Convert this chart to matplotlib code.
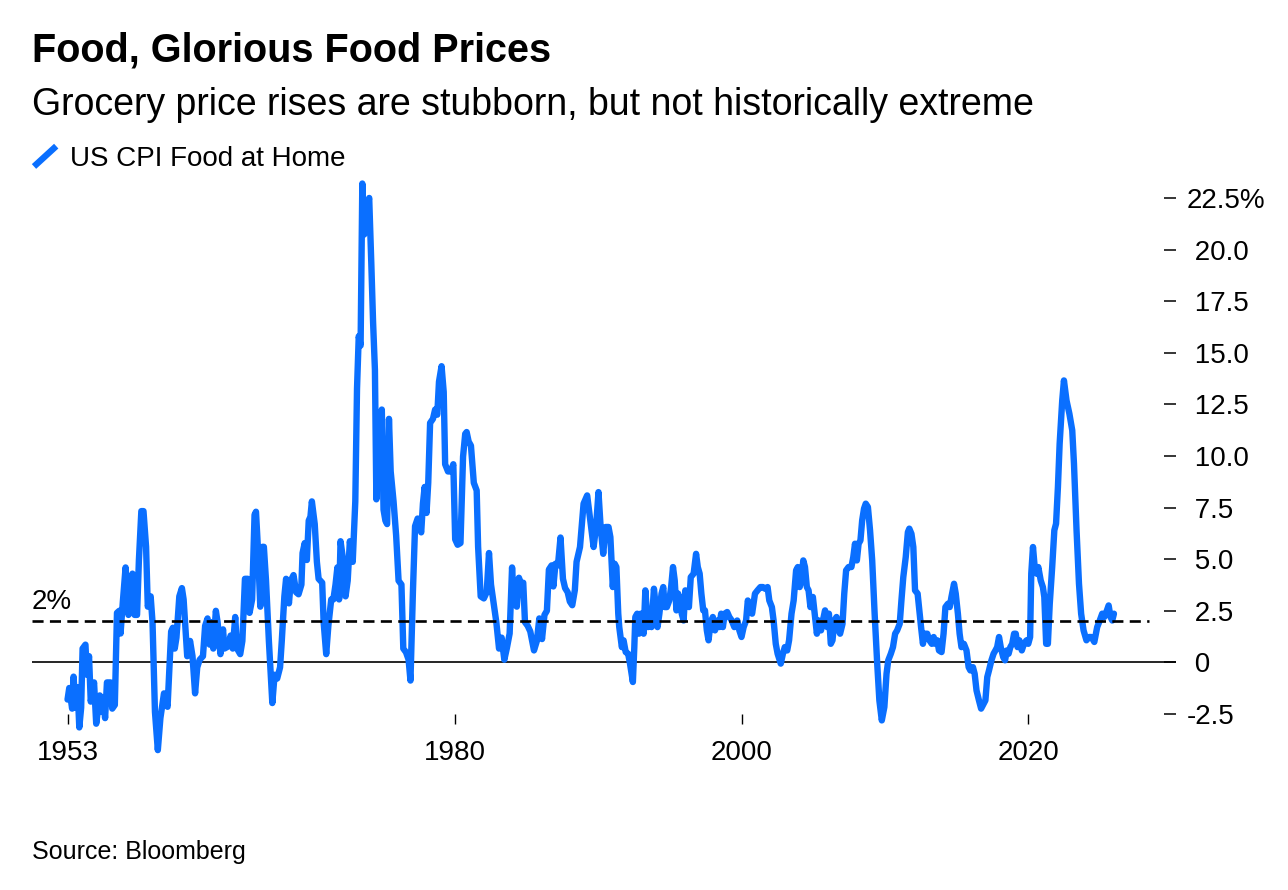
import matplotlib

matplotlib.use("Agg")

import matplotlib.pyplot as plt
from matplotlib.legend_handler import HandlerBase
from matplotlib.lines import Line2D

plt.rcParams["font.family"] = ["Liberation Sans", "DejaVu Sans"]

# US CPI food at home, y/y % change (decimal years)
dates_1953_1972 = [
    1952.95, 1953.07, 1953.27, 1953.37, 1953.5, 1953.65, 1953.77, 1953.9,
    1954.0, 1954.2, 1954.3, 1954.45, 1954.57, 1954.8, 1954.95, 1955.2,
    1955.3, 1955.45, 1955.57, 1955.7, 1955.95, 1956.07, 1956.25, 1956.4,
    1956.56, 1956.65, 1956.8, 1957.0, 1957.2, 1957.3, 1957.48, 1957.63,
    1957.8, 1957.93, 1958.1, 1958.25, 1958.43, 1958.55, 1958.75, 1958.88,
    1959.05, 1959.25, 1959.43, 1959.68, 1959.93, 1960.18, 1960.3, 1960.43,
    1960.55, 1960.75, 1960.93, 1961.05, 1961.3, 1961.5, 1961.67, 1961.85,
    1962.0, 1962.17, 1962.4, 1962.55, 1962.72, 1962.87, 1963.0, 1963.12,
    1963.3, 1963.42, 1963.62, 1963.8, 1963.9, 1964.15, 1964.33, 1964.48,
    1964.65, 1964.78, 1965.0, 1965.15, 1965.33, 1965.53, 1965.65, 1965.83,
    1966.0, 1966.1, 1966.23, 1966.4, 1966.55, 1966.65, 1966.8, 1967.0,
    1967.24, 1967.4, 1967.58, 1967.78, 1967.9, 1968.08, 1968.2, 1968.4,
    1968.53, 1968.72, 1968.9, 1969.07, 1969.27, 1969.35, 1969.5, 1969.65,
    1969.78, 1969.9, 1970.0, 1970.2, 1970.35, 1970.47, 1970.72, 1970.82,
    1971.0, 1971.15, 1971.35, 1971.5, 1971.65, 1971.78, 1971.9, 1972.0,
    1972.2, 1972.35, 1972.5, 1972.65, 1972.85,
]
yoy_1953_1972 = [
    -1.8, -1.24, -2.24, -0.69, -2.2, -1.2, -3.15, -2.2,
    0.67, 0.86, -0.6, 0.3, -1.9, -0.97, -2.97, -1.6,
    -2.4, -1.7, -2.7, -0.97, -0.97, -2.24, -2.06, 2.4,
    2.5, 1.4, 2.86, 4.6, 2.3, 3.05, 4.3, 2.3,
    2.3, 4.96, 7.33, 7.33, 5.6, 2.7, 3.2, 1.95,
    -2.4, -4.25, -2.7, -1.5, -2.15, 1.5, 1.68, 0.67,
    1.2, 3.2, 3.6, 3.05, 0.3, 1.04, 0.3, -1.5,
    -0.24, 0.13, 0.3, 1.77, 2.13, 0.86, 1.95, 0.67,
    2.5, 1.95, 0.4, 1.6, 0.67, 0.77, 1.3, 0.67,
    2.2, 0.67, 0.4, 1.04, 4.05, 4.05, 2.4, 3.05,
    7.15, 7.3, 5.6, 2.7, 5.6, 5.6, 3.96, 1.04,
    -1.97, -0.6, -0.78, -0.24, 1.04, 3.2, 4.05, 2.86,
    3.96, 4.23, 3.4, 3.3, 3.77, 5.3, 5.78, 4.96,
    6.87, 7.06, 7.8, 6.7, 4.87, 4.05, 3.86, 1.95,
    0.4, 1.77, 3.05, 3.05, 3.77, 4.6, 3.05, 5.87,
    4.87, 3.2, 3.96, 5.87, 4.87,
]

dates_1973_1988 = [
    1973.03, 1973.15, 1973.27, 1973.4, 1973.52, 1973.65, 1973.77, 1973.9,
    1974.0, 1974.15, 1974.27, 1974.4, 1974.5, 1974.63, 1974.75, 1974.88,
    1975.0, 1975.13, 1975.25, 1975.38, 1975.5, 1975.7, 1975.88, 1976.05,
    1976.25, 1976.38, 1976.57, 1976.75, 1976.88, 1977.05, 1977.2, 1977.38,
    1977.5, 1977.63, 1977.75, 1977.87, 1978.0, 1978.12, 1978.25, 1978.45,
    1978.6, 1978.75, 1978.87, 1979.05, 1979.2, 1979.3, 1979.5, 1979.7,
    1979.87, 1980.0, 1980.17, 1980.37, 1980.55, 1980.7, 1980.8, 1980.94,
    1981.1, 1981.3, 1981.5, 1981.6, 1981.78, 1982.0, 1982.2, 1982.36,
    1982.5, 1982.67, 1982.87, 1983.06, 1983.24, 1983.43, 1983.6, 1983.8,
    1983.97, 1984.1, 1984.3, 1984.45, 1984.6, 1984.75, 1984.87, 1985.06,
    1985.24, 1985.5, 1985.7, 1985.87, 1986.06, 1986.23, 1986.4, 1986.54,
    1986.73, 1986.85, 1987.0, 1987.17, 1987.35, 1987.52, 1987.67, 1987.85,
    1988.0, 1988.17, 1988.35, 1988.47,
]
yoy_1973_1988 = [
    7.8, 13.26, 15.8, 15.35, 23.2, 20.73, 21.1, 22.2,
    22.5, 19.27, 16.5, 14.17, 7.9, 10.34, 11.07, 12.25,
    7.4, 6.87, 6.7, 11.8, 9.25, 7.8, 6.15, 3.96,
    3.77, 0.67, 0.49, 0.13, -0.88, 3.4, 6.6, 6.97,
    6.6, 6.3, 7.7, 8.5, 7.24, 8.7, 11.6, 11.8,
    12.25, 12.0, 13.6, 14.35, 13.1, 9.6, 9.25, 9.25,
    9.6, 5.96, 5.7, 5.78, 9.97, 11.07, 11.16, 10.7,
    10.5, 8.7, 8.33, 5.6, 3.2, 3.1, 3.4, 5.3,
    3.77, 2.95, 1.95, 0.67, 1.2, 0.13, 0.67, 1.4,
    4.6, 2.86, 2.7, 4.1, 3.77, 3.86, 1.95, 1.77,
    1.5, 0.58, 1.04, 2.13, 1.13, 2.3, 2.5, 4.5,
    4.7, 3.68, 4.78, 4.7, 6.05, 4.05, 3.6, 3.4,
    2.95, 2.77, 3.5, 4.87,
]

dates_1988_2005 = [
    1988.71, 1988.96, 1989.21, 1989.46, 1989.66, 1989.83, 1990.0, 1990.15,
    1990.33, 1990.5, 1990.7, 1990.83, 1991.0, 1991.13, 1991.25, 1991.38,
    1991.45, 1991.63, 1991.75, 1991.9, 1992.07, 1992.2, 1992.4, 1992.5,
    1992.57, 1992.7, 1992.82, 1992.95, 1993.15, 1993.27, 1993.45, 1993.57,
    1993.7, 1993.87, 1994.0, 1994.12, 1994.25, 1994.4, 1994.52, 1994.62,
    1994.77, 1994.94, 1995.07, 1995.2, 1995.32, 1995.44, 1995.56, 1995.69,
    1995.81, 1995.94, 1996.06, 1996.19, 1996.31, 1996.44, 1996.64, 1996.81,
    1996.93, 1997.06, 1997.18, 1997.31, 1997.43, 1997.56, 1997.68, 1997.81,
    1997.98, 1998.13, 1998.31, 1998.43, 1998.56, 1998.68, 1998.81, 1998.98,
    1999.13, 1999.3, 1999.48, 1999.68, 1999.83, 1999.98, 2000.13, 2000.3,
    2000.42, 2000.57, 2000.72, 2000.92, 2001.1, 2001.3, 2001.47, 2001.62,
    2001.8, 2001.92, 2002.1, 2002.22, 2002.37, 2002.5, 2002.72, 2002.87,
    2003.0, 2003.17, 2003.3, 2003.47, 2003.62, 2003.79, 2003.91, 2004.04,
    2004.16, 2004.29, 2004.41, 2004.54, 2004.66, 2004.79, 2004.96,
]
yoy_1988_2005 = [
    5.59, 7.69, 8.09, 6.72, 5.59, 6.56, 8.25, 6.56,
    5.26, 6.56, 6.56, 6.07, 3.65, 4.78, 4.62, 2.36,
    1.71, 0.74, 1.07, 0.5, 0.42, -0.06, -0.95, 0.74,
    2.2, 2.36, 1.39, 2.36, 1.39, 3.49, 1.71, 1.87,
    1.71, 3.57, 2.68, 1.71, 2.36, 3.33, 3.65, 2.68,
    2.68, 3.0, 3.65, 4.62, 3.97, 2.52, 3.33, 3.0,
    2.36, 2.03, 3.49, 3.0, 2.68, 4.13, 4.3, 5.26,
    4.62, 4.3, 3.33, 2.52, 2.52, 1.55, 1.07, 1.87,
    2.2, 1.55, 2.03, 1.71, 2.36, 1.71, 2.36, 2.44,
    2.2, 2.03, 1.71, 2.03, 1.55, 1.23, 1.71, 2.03,
    3.0, 2.68, 2.36, 3.33, 3.49, 3.65, 3.65, 3.57,
    3.65, 3.0, 2.68, 2.03, 0.9, 0.42, -0.06, 0.42,
    0.74, 0.58, 1.07, 2.36, 3.0, 4.46, 4.62, 3.65,
    3.97, 4.94, 4.62, 3.65, 3.49, 2.68, 3.17,
]

dates_2005_2025 = [
    2005.11, 2005.24, 2005.36, 2005.53, 2005.66, 2005.81, 2005.96, 2006.08,
    2006.21, 2006.33, 2006.46, 2006.61, 2006.76, 2006.86, 2007.03, 2007.15,
    2007.28, 2007.45, 2007.65, 2007.78, 2007.9, 2008.03, 2008.15, 2008.28,
    2008.4, 2008.53, 2008.65, 2008.8, 2008.95, 2009.1, 2009.27, 2009.45,
    2009.6, 2009.77, 2009.95, 2010.1, 2010.22, 2010.4, 2010.55, 2010.7,
    2010.84, 2011.02, 2011.14, 2011.27, 2011.44, 2011.59, 2011.69, 2011.84,
    2011.97, 2012.09, 2012.27, 2012.39, 2012.51, 2012.64, 2012.76, 2012.94,
    2013.09, 2013.26, 2013.39, 2013.51, 2013.64, 2013.76, 2013.94, 2014.08,
    2014.21, 2014.38, 2014.51, 2014.63, 2014.81, 2014.93, 2015.08, 2015.2,
    2015.33, 2015.5, 2015.68, 2015.83, 2015.95, 2016.13, 2016.25, 2016.38,
    2016.55, 2016.7, 2016.88, 2017.0, 2017.13, 2017.25, 2017.42, 2017.57,
    2017.7, 2017.82, 2017.95, 2018.07, 2018.24, 2018.37, 2018.5, 2018.62,
    2018.74, 2018.87, 2019.0, 2019.12, 2019.24, 2019.37, 2019.54, 2019.69,
    2019.87, 2019.99, 2020.12, 2020.2, 2020.32, 2020.44, 2020.57, 2020.69,
    2020.86, 2021.01, 2021.11, 2021.24, 2021.36, 2021.49, 2021.66, 2021.81,
    2021.93, 2022.06, 2022.18, 2022.36, 2022.48, 2022.66, 2022.86, 2023.06,
    2023.18, 2023.36, 2023.53, 2023.68, 2023.85, 2024.05, 2024.23, 2024.4,
    2024.6, 2024.8, 2024.98, 2025.15, 2025.3, 2025.48, 2025.6, 2025.73,
    2025.85, 2025.97,
]
yoy_2005_2025 = [
    2.2, 1.39, 2.03, 1.55, 2.03, 2.52, 1.71, 2.36,
    0.9, 1.07, 2.03, 2.2, 1.55, 1.39, 1.87, 3.33,
    4.46, 4.62, 4.62, 5.1, 5.75, 4.94, 5.75, 5.91,
    6.88, 7.45, 7.69, 7.53, 6.4, 4.94, 2.36, -0.06,
    -1.84, -2.81, -2.16, -0.55, 0.1, 0.42, 0.74, 1.39,
    1.55, 1.87, 3.0, 4.13, 5.1, 6.31, 6.48, 6.23,
    5.59, 3.49, 3.33, 2.52, 1.71, 0.9, 1.39, 1.39,
    1.07, 0.9, 1.23, 0.9, 1.07, 0.58, 0.5, 1.39,
    2.68, 2.84, 2.68, 3.17, 3.81, 3.33, 2.36, 1.39,
    0.74, 0.9, 0.58, -0.23, -0.39, -0.23, -0.55, -1.36,
    -1.84, -2.24, -2.0, -1.84, -0.71, -0.39, 0.1, 0.42,
    0.58, 0.74, 1.23, 0.74, 0.26, 0.1, 0.58, 0.42,
    0.74, 0.9, 1.39, 1.39, 0.74, 1.07, 0.58, 0.9,
    1.07, 0.9, 1.23, 4.3, 5.59, 4.62, 4.3, 4.62,
    3.97, 3.65, 3.17, 0.9, 0.9, 2.84, 4.62, 6.4,
    6.72, 8.49, 10.59, 12.69, 13.66, 12.69, 12.05, 11.24,
    9.63, 6.4, 3.81, 2.36, 1.55, 1.07, 1.23, 1.23,
    0.99, 1.71, 2.03, 2.36, 2.2, 2.52, 2.76, 2.2,
    2.03, 2.36,
]

dates = dates_1953_1972 + dates_1973_1988 + dates_1988_2005 + dates_2005_2025
yoy_pct = yoy_1953_1972 + yoy_1973_1988 + yoy_1988_2005 + yoy_2005_2025

x_ticks = [1953, 1980, 2000, 2020]
y_ticks = [-2.5, 0, 2.5, 5.0, 7.5, 10.0, 12.5, 15.0, 17.5, 20.0, 22.5]
y_tick_labels = ["-2.5", " 0", " 2.5", " 5.0", " 7.5", " 10.0", " 12.5",
                 " 15.0", " 17.5", " 20.0", "22.5%"]
target_pct = 2.0

BLUE = "#0a6fff"
W, H = 1288, 890


class SlashHandler(HandlerBase):
    def create_artists(self, legend, orig_handle, xdescent, ydescent,
                       width, height, fontsize, trans):
        x0, y0 = -xdescent, -ydescent
        line = Line2D([x0, x0 + width], [y0, y0 + height], color=BLUE,
                      linewidth=orig_handle.get_linewidth(),
                      solid_capstyle="butt", transform=trans)
        return [line]


fig = plt.figure(figsize=(W / 100, H / 100), dpi=100)
ax = fig.add_axes([32 / W, 1 - 714 / H, 1144 / W, (714 - 179.4) / H])

ax.axhline(0, color="black", linewidth=1.2, zorder=1)
(series_line,) = ax.plot(dates, yoy_pct, color=BLUE, linewidth=4.6,
                         solid_joinstyle="round", solid_capstyle="round",
                         clip_on=False, zorder=2)
ax.axhline(target_pct, xmax=0.976, color="black", linewidth=1.9,
           linestyle=(0, (4.2, 2.4)), zorder=3)

ax.set_xlim(1950.47, 2030.3)
ax.set_ylim(-2.5, 23.4)

for spine in ax.spines.values():
    spine.set_visible(False)

ax.set_xticks(x_ticks)
ax.set_xticklabels([str(t) for t in x_ticks])
ax.tick_params(axis="x", direction="out", length=7.5, width=1.0,
               pad=11, labelsize=20, colors="black")

ax.yaxis.tick_right()
ax.set_yticks(y_ticks)
ax.set_yticklabels(y_tick_labels)
ax.tick_params(axis="y", direction="in", length=8.5, width=1.1, pad=8,
               labelsize=20, colors="black")
for lbl in ax.get_yticklabels():
    lbl.set_horizontalalignment("left")

ax.text(0, target_pct + 0.3, "2%", transform=ax.get_yaxis_transform(),
        ha="left", va="bottom", fontsize=20)

fig.text(32 / W, 1 - 50 / H, "Food, Glorious Food Prices", fontsize=28.5,
         fontweight="bold", ha="left", va="center")
fig.text(32 / W, 1 - 105 / H,
         "Grocery price rises are stubborn, but not historically extreme",
         fontsize=27, ha="left", va="center")
fig.text(32 / W, 1 - 852 / H, "Source: Bloomberg", fontsize=18,
         ha="left", va="center")

fig.legend([series_line], ["US CPI Food at Home"],
           handler_map={Line2D: SlashHandler()},
           loc="center left", bbox_to_anchor=(34 / W, 1 - 159 / H),
           frameon=False, fontsize=20, borderpad=0, borderaxespad=0,
           handlelength=0.8, handleheight=0.75, handletextpad=0.5)

fig.savefig("out.png", dpi=100)
